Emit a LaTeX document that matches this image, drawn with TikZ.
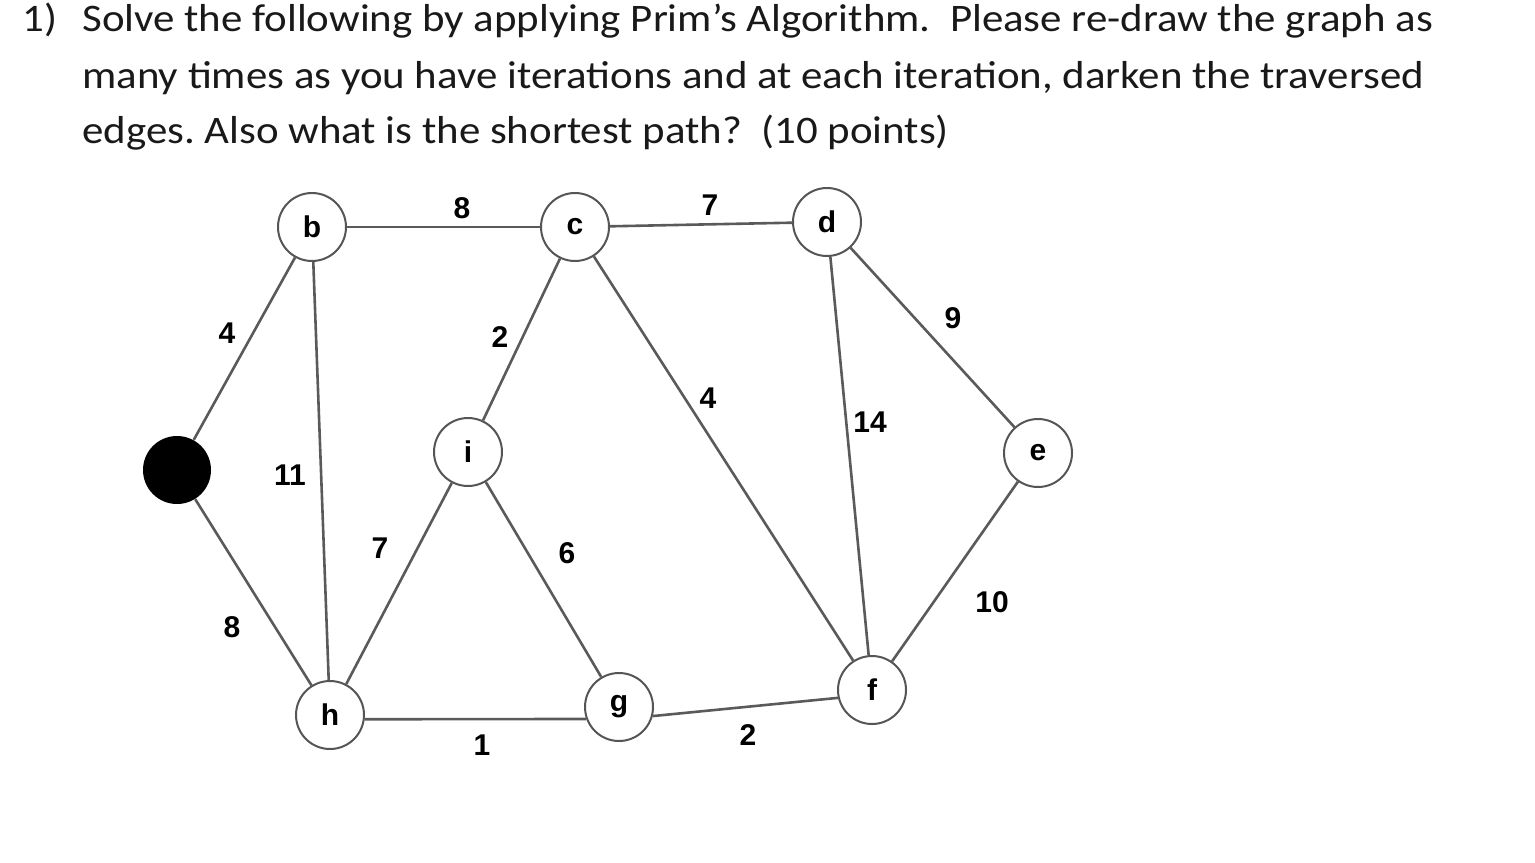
\documentclass[tikz,border=0pt]{standalone}
\usepackage{fontspec}
\setmainfont{Carlito}[FakeStretch=1.1]
\newfontfamily\labelfont{Liberation Sans}
\usepackage{xcolor}
\definecolor{edgegray}{RGB}{90,90,90}
\definecolor{ringgray}{RGB}{85,85,85}
\definecolor{textblack}{RGB}{25,25,25}
\frenchspacing

\tikzset{
  vertex/.style={circle, draw=ringgray, line width=1pt, fill=white, minimum size=34pt, inner sep=0pt, font=\labelfont\bfseries\fontsize{15}{15}\selectfont},
  start/.style={circle, fill=black, minimum size=34pt, inner sep=0pt},
  weight/.style={font=\labelfont\bfseries\fontsize{15}{15}\selectfont, inner sep=0pt},
  link/.style={edgegray, line width=1.3pt},
  qline/.style={anchor=base west, inner sep=0pt, textblack, font=\fontsize{19.5}{19.5}\selectfont}
}

\begin{document}
\begin{tikzpicture}[x=0.5pt, y=-0.5pt]
    \useasboundingbox (0,0) rectangle (1535,862);

    % Question text
    \node[qline] (num) at (22,32) {1)};
    \node[qline] (q1) at (82,32) {Solve the following by applying Prim’s Algorithm.\ \ Please re-draw the graph as};
    \node[qline] (q2) at (82,88) {many times as you have iterations and at each iteration, darken the traversed};
    \node[qline] (q3) at (82,143) {edges. Also what is the shortest path?\ \ (10 points)};

    % Vertices
    \node[start] (a) at (177,470) {};
    \node[vertex] (b) at (312,227) {b};
    \node[vertex] (c) at (575,227) {c};
    \node[vertex] (d) at (827,222) {d};
    \node[vertex] (e) at (1038,453) {e};
    \node[vertex] (i) at (468,452) {i};
    \node[vertex] (h) at (330,715) {h};
    \node[vertex] (g) at (619,707) {g};
    \node[vertex] (f) at (872,690) {f};

    % Edges
    \draw[link] (a) -- (b);
    \draw[link] (a) -- (h);
    \draw[link] (b) -- (c);
    \draw[link] (b) -- (h);
    \draw[link] (c) -- (d);
    \draw[link] (c) -- (i);
    \draw[link] (c) -- (f);
    \draw[link] (d) -- (e);
    \draw[link] (d) -- (f);
    \draw[link] (e) -- (f);
    \draw[link] (i) -- (h);
    \draw[link] (i) -- (g);
    \draw[link] (h.-7) -- (g.200);
    \draw[link] (g.-15) -- (f.193);

    % Weights
    \node[weight] (w-ab) at (227,333) {4};
    \node[weight] (w-ah) at (232,627) {8};
    \node[weight] (w-bc) at (462,208) {8};
    \node[weight] (w-bh) at (290,475) {11};
    \node[weight] (w-cd) at (710,205) {7};
    \node[weight] (w-ci) at (500,337) {2};
    \node[weight] (w-cf) at (708,398) {4};
    \node[weight] (w-de) at (953,318) {9};
    \node[weight] (w-df) at (870,422) {14};
    \node[weight] (w-ef) at (992,602) {10};
    \node[weight] (w-ih) at (380,548) {7};
    \node[weight] (w-ig) at (567,553) {6};
    \node[weight] (w-hg) at (482,745) {1};
    \node[weight] (w-gf) at (748,735) {2};
\end{tikzpicture}
\end{document}
